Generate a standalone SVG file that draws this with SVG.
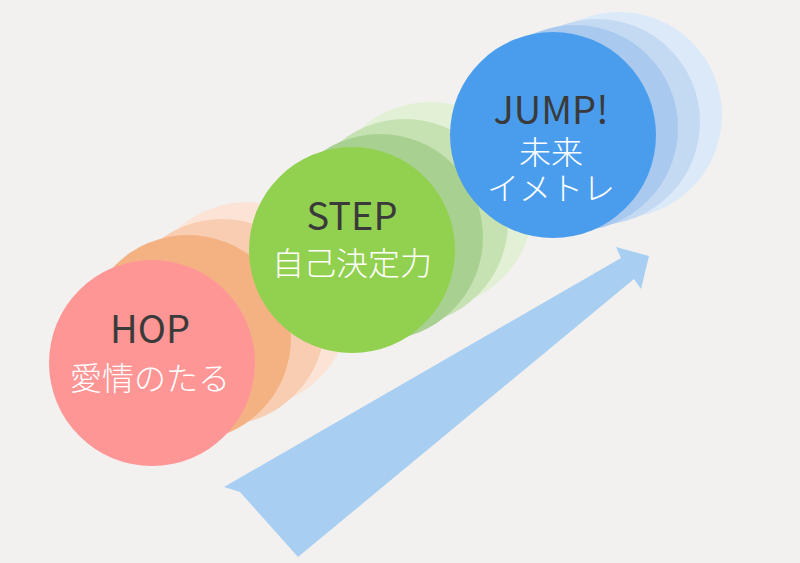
<svg xmlns="http://www.w3.org/2000/svg" width="800" height="563" viewBox="0 0 800 563">
<style>
.t{font-family:"Noto Sans CJK JP","Open Sans",sans-serif}
.en{font-size:38px;fill:#3a3a3a}
.jp{font-size:32px;fill:#fff;font-weight:300}
</style>
<rect width="800" height="563" fill="#f2f1f0"/>
<g id="connectors">
<polygon points="224,487 621,258 616,247 649,256 641,289 634,279 298,557 240,492" fill="#a8cff2"/>
</g>
<g id="jump-trail">
<circle cx="619" cy="115" r="103" fill="#dbe9f8"/>
<circle cx="597" cy="122" r="103" fill="#c4daf3"/>
<circle cx="575" cy="128" r="103" fill="#a9c9ee"/>
</g>
<g id="step-trail">
<circle cx="430" cy="205" r="103" fill="#e2f0d6"/>
<circle cx="405" cy="222" r="103" fill="#c6e1b2"/>
<circle cx="380" cy="237" r="103" fill="#a8d191"/>
</g>
<g id="hop-trail">
<circle cx="247" cy="305" r="103" fill="#fbe4d6"/>
<circle cx="222" cy="322" r="103" fill="#f8cdb2"/>
<circle cx="188" cy="338" r="103" fill="#f4b283"/>
</g>
<g id="hop">
<circle cx="152" cy="363" r="103" fill="#ff9696"/>
<text class="t en" x="150" y="343" text-anchor="middle">HOP</text>
<text class="t jp" x="150" y="390" text-anchor="middle">愛情のたる</text>
</g>
<g id="step">
<circle cx="352" cy="250" r="103" fill="#92d050"/>
<text class="t en" x="352" y="230" text-anchor="middle">STEP</text>
<text class="t jp" x="352" y="275" text-anchor="middle">自己決定力</text>
</g>
<g id="jump">
<circle cx="553" cy="135" r="103" fill="#4a9ded"/>
<text class="t en" x="551" y="124" text-anchor="middle">JUMP!</text>
<text class="t jp" x="551" y="164" text-anchor="middle">未来</text>
<text class="t jp" x="551" y="200" text-anchor="middle">イメトレ</text>
</g>
</svg>
